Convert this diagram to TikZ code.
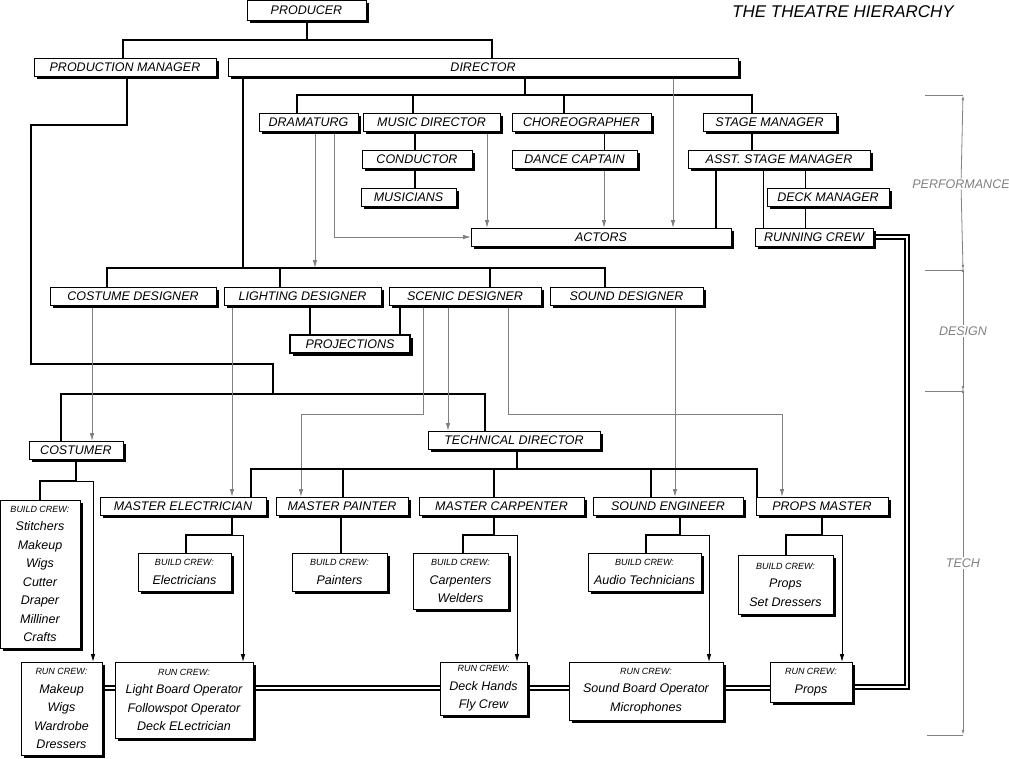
\documentclass[tikz,border=0pt]{standalone}
\usepackage{fontspec}
\setmainfont{Liberation Sans}
\usetikzlibrary{shadows,arrows.meta}
\newcommand\bx[7][]{\node[box,#1,minimum width={(#5-#3)*1pt},minimum height={(#6-#4)*1pt}] (#2) at ({(#3+#5)/2},{(#4+#6)/2}) {#7};}
\newcommand\sm[1]{{\fontsize{9}{10}\selectfont #1}}
\begin{document}
\begin{tikzpicture}[x=1pt,y=-1pt,
  box/.style={draw=black,fill=white,line width=0.7pt,inner sep=0pt,align=center,
    font=\itshape\fontsize{12.5}{18.5}\selectfont,
    general shadow={fill=black,shadow xshift=3pt,shadow yshift=-3pt},
    general shadow={fill=white,shadow xshift=1.4pt,shadow yshift=-1.4pt}},
  thick line/.style={line width=2.4pt},
  thin line/.style={line width=0.8pt},
  garrow/.style={draw=gray,line width=0.9pt,-{Latex[length=8pt,width=4.5pt]}},
  barrow/.style={draw=black,line width=0.8pt,-{Latex[length=8pt,width=4.5pt]}},
  dline/.style={line width=2pt,double=white,double distance=2.4pt},
  scale line/.style={draw=gray,line width=0.8pt},
  lab/.style={text=gray,fill=white,font=\itshape\fontsize{12.5}{13}\selectfont,inner sep=1pt}]
\useasboundingbox (0,0) rectangle (1009,758);
\node[font=\itshape\fontsize{17}{18}\selectfont] (title) at (843,12) {THE THEATRE HIERARCHY};
% scale
\coordinate (s0) at (963,95); \coordinate (s1) at (963,270); \coordinate (s2) at (963,391); \coordinate (s3) at (963,735);
\draw[scale line] (925,95) -- (s0); \draw[scale line] (925,270) -- (s1);
\draw[scale line] (925,391) -- (s2); \draw[scale line] (927,735) -- (s3);
\node[lab] (perf) at (961,184) {PERFORMANCE};
\node[lab] (des) at (963,331) {DESIGN};
\node[lab] (tech) at (963,563) {TECH};
\draw[scale line,-{Latex[length=5pt,width=2.5pt]}] (perf) -- (s0);
\draw[scale line,-{Latex[length=5pt,width=2.5pt]}] (perf) -- (s1);
\draw[scale line,-{Latex[length=5pt,width=2.5pt]}] (des) -- ([yshift=3pt]s1);
\draw[scale line,-{Latex[length=5pt,width=2.5pt]}] (des) -- (s2);
\draw[scale line,-{Latex[length=5pt,width=2.5pt]}] (tech) -- ([yshift=3pt]s2);
\draw[scale line,-{Latex[length=5pt,width=2.5pt]}] (tech) -- (s3);

% ---- connectors
\draw[thick line] (307,20) -- (307,40) (123,58) |- (492,40) -- (492,58);
\draw[thick line] (525,76) -- (525,95) (297,113) |- (752,95) -- (752,113)
  (413,95) -- (413,113) (564,95) -- (564,113);
\draw[thick line] (415,131) -- (415,188);
\draw[thin line] (604,131) -- (604,150);
\draw[thick line] (752,131) -- (752,150);
\draw[thick line] (716,168) -- (716,228);
\draw[thin line] (763,168) -- (763,228) (805,168) -- (805,228);
\draw[garrow] (487,131) -- (487,228);
\draw[garrow] (673,76) -- (673,228);
\draw[garrow] (604,168) -- (604,228);
\draw[garrow] (334,131) |- (471,237);
\draw[garrow] (315,131) -- (315,268);
\draw[thick line] (243,76) -- (243,268) (107,287) |- (605,268) -- (605,287)
  (280,268) -- (280,287) (490,268) -- (490,287);
\draw[thick line] (310,305) -- (310,335) (400,305) -- (400,335);
\draw[thick line] (127,76) |- (31,125) |- (273,364) -- (273,394)
  (61,441) |- (485,394) -- (485,431);
\draw[garrow] (92,305) -- (92,441);
\draw[garrow] (232,305) -- (232,497);
\draw[garrow] (423,305) |- (301,414) -- (301,497);
\draw[garrow] (448,305) -- (448,431);
\draw[garrow] (508,305) |- (782,414) -- (782,497);
\draw[garrow] (675,305) -- (675,497);
\draw[thick line] (517,449) -- (517,469) (251,497) |- (757,469) -- (757,497)
  (343,469) -- (343,497) (494,469) -- (494,497) (651,469) -- (651,497);
\draw[thick line] (76,459) -- (76,481) -| (40,500);
\draw[barrow] (76,481) -| (93,662);
\draw[thick line] (232,515) -- (232,535) -| (186,553);
\draw[barrow] (232,535) -| (243,662);
\draw[thick line] (341,515) -- (341,553);
\draw[thick line] (494,515) -- (494,535) -| (463,553);
\draw[barrow] (494,535) -| (517,662);
\draw[thick line] (680,515) -- (680,535) -| (646,553);
\draw[barrow] (680,535) -| (709,662);
\draw[thick line] (822,515) -- (822,535) -| (786,555);
\draw[barrow] (822,535) -| (842,662);
\draw[dline] (102,688) -- (115,688) (253,688) -- (440,688) (527,688) -- (569,688)
  (723,688) -- (770,688);
\draw[dline] (852,687) -| (907,237) -- (873,237);

% ---- boxes
\bx{prod}{247}{0}{366}{20}{PRODUCER}
\bx{pm}{34}{58}{216}{76}{PRODUCTION MANAGER}
\bx{dir}{228}{58}{738}{76}{DIRECTOR}
\bx{dram}{259}{113}{358}{131}{DRAMATURG}
\bx{mdir}{363}{113}{500}{131}{MUSIC DIRECTOR}
\bx{chor}{512}{113}{651}{131}{CHOREOGRAPHER}
\bx{sm}{703}{113}{836}{131}{STAGE MANAGER}
\bx{cond}{362}{150}{472}{168}{CONDUCTOR}
\bx{dcap}{512}{150}{637}{168}{DANCE CAPTAIN}
\bx{asm}{688}{150}{870}{168}{ASST. STAGE MANAGER}
\bx{mus}{361}{188}{456}{206}{MUSICIANS}
\bx{deck}{767}{188}{889}{206}{DECK MANAGER}
\bx{act}{471}{228}{731}{246}{ACTORS}
\bx{run}{755}{228}{873}{246}{RUNNING CREW}
\bx{cdes}{50}{287}{216}{305}{COSTUME DESIGNER}
\bx{ldes}{224}{287}{381}{305}{LIGHTING DESIGNER}
\bx{sdes}{389}{287}{541}{305}{SCENIC DESIGNER}
\bx{snd}{550}{287}{703}{305}{SOUND DESIGNER}
\bx[line width=1.5pt]{proj}{290}{335}{410}{353}{PROJECTIONS}
\bx{cost}{29}{441}{123}{459}{COSTUMER}
\bx{td}{428}{431}{600}{449}{TECHNICAL DIRECTOR}
\bx{mel}{100}{497}{266}{515}{MASTER ELECTRICIAN}
\bx{mpa}{276}{497}{408}{515}{MASTER PAINTER}
\bx{mca}{419}{497}{584}{515}{MASTER CARPENTER}
\bx{seng}{593}{497}{743}{515}{SOUND ENGINEER}
\bx{prm}{756}{497}{888}{515}{PROPS MASTER}
\bx{bcost}{0}{500}{80}{648}{\sm{BUILD CREW:}\\Stitchers\\Makeup\\Wigs\\Cutter\\Draper\\Milliner\\Crafts}
\bx{bel}{138}{553}{231}{591}{\sm{BUILD CREW:}\\Electricians}
\bx{bpa}{292}{553}{387}{591}{\sm{BUILD CREW:}\\Painters}
\bx{bca}{413}{553}{508}{609}{\sm{BUILD CREW:}\\Carpenters\\Welders}
\bx{bau}{588}{553}{701}{591}{\sm{BUILD CREW:}\\Audio Technicians}
\bx{bpr}{738}{555}{833}{614}{\sm{BUILD CREW:}\\Props\\Set Dressers}
\bx{rcost}{21}{662}{102}{755}{\sm{RUN CREW:}\\Makeup\\Wigs\\Wardrobe\\Dressers}
\bx{rlig}{115}{662}{253}{738}{\sm{RUN CREW:}\\Light Board Operator\\Followspot Operator\\Deck ELectrician}
\bx{rdeck}{440}{662}{527}{715}{\sm{RUN CREW:}\\Deck Hands\\Fly Crew}
\bx{rsnd}{569}{662}{723}{720}{\sm{RUN CREW:}\\Sound Board Operator\\Microphones}
\bx{rpr}{770}{662}{852}{702}{\sm{RUN CREW:}\\Props}
\end{tikzpicture}
\end{document}
